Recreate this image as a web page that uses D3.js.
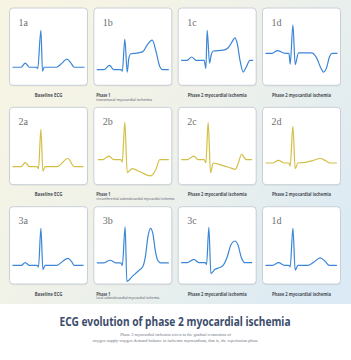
<!DOCTYPE html>
<html>
<head>
<meta charset="utf-8">
<script src="https://cdn.jsdelivr.net/npm/d3@7"></script>
<style>
  body { margin: 0; background: #fff; }
  svg { display: block; }
</style>
</head>
<body>
<div id="chart"></div>
<script>
// ECG traces, [time unit, mV]
const ecg1a = [[0,0],[8.7,0],[12.7,0.14],[17,0],[24,0],[25.2,-0.05],[28.4,1.23],[30,-0.13],[31.7,0],[44,0],[49,0.12],[54.4,0.27],[58.5,0.14],[61.7,0],[72,0]];
const ecg1b = [[0,-0.08],[7,-0.08],[12.7,0.06],[17,-0.08],[24,-0.08],[25.5,-0.13],[28,0.93],[30.4,-0.16],[32,0.3],[34,0.45],[40,0.47],[46,0.52],[50,0.72],[55.4,0.9],[59,0.55],[63,0.02],[66,-0.08],[72,-0.08]];
const ecg1c = [[0,0.23],[6,0.23],[10.4,0.34],[15,0.23],[23,0.23],[24.7,-0.04],[26,1.23],[28.4,0.14],[30,0.4],[32,0.54],[42,0.57],[47,0.65],[51,0.85],[53.7,0.98],[56,0.8],[59,0.2],[62,-0.16],[65,0],[68.7,0.23],[72,0.23]];
const ecg1d = [[0,0.46],[6.4,0.46],[12,0.55],[19.7,0.46],[23.5,0.46],[24.7,0.1],[27.4,1.4],[29.7,0.09],[33,0.48],[46,0.48],[51,0.32],[55,0],[58,-0.16],[61,-0.02],[64,0.35],[66.4,0.46],[72,0.46]];

const ecg2a = [[0,0],[8.7,0],[12.7,0.13],[17,0],[24.5,0],[26,-0.07],[28.4,1.24],[30.4,-0.15],[32.7,0],[44.4,0],[55.4,0.27],[61.7,0],[71,0]];
const ecg2b = [[1,0.23],[6,0.23],[12,0.35],[17,0.23],[24,0.23],[25.4,0.15],[28,1.47],[30.4,-0.2],[35.4,-0.07],[43.7,-0.18],[53.7,-0.31],[58.7,-0.12],[63,0.23],[72,0.23]];
const ecg2c = [[0,0.23],[6,0.23],[12.7,0.35],[17,0.23],[23,0.23],[24.7,0.13],[27,1.47],[29.4,-0.2],[32,0.12],[42,0.03],[50,-0.05],[54,-0.09],[57,0.1],[60.4,0.41],[63,0.3],[65.4,0.23],[71,0.23]];
const ecg2d = [[0,0.12],[7,0.12],[13,0.21],[19,0.12],[23.5,0.12],[24.7,0.02],[27.4,1.34],[29.7,-0.07],[32.4,0.12],[40,0.14],[47,0.2],[54.7,0.27],[60,0.2],[64.7,0.12],[71.4,0.12]];

const ecg3a = [[0,0.02],[8.7,0.02],[12.7,0.11],[17,0.02],[24.5,0.02],[26,-0.03],[28.4,1.25],[30.4,-0.12],[32.7,0.02],[44.4,0.02],[50,0.15],[55.4,0.25],[59,0.15],[61.7,0.02],[71,0.02]];
const ecg3b = [[0,0.1],[7,0.1],[13.2,0.19],[19,0.1],[24,0.1],[25.5,0.02],[28.3,1.3],[30,-0.51],[36,-0.33],[42,-0.15],[46,-0.02],[48.5,0.3],[51,0.95],[53.7,1.25],[56,1.08],[58.5,0.5],[61,0.18],[64,0.1],[72,0.1]];
const ecg3c = [[0,0.11],[6,0.11],[12.7,0.22],[17.7,0.11],[24,0.11],[25.4,0.05],[27.7,1.28],[29.7,-0.25],[33.7,-0.12],[38,-0.06],[42,0.02],[46,0.3],[50,0.72],[53.7,0.83],[57,0.68],[60,0.3],[63.7,0.11],[71,0.11]];
const ecg3d = [[0,0.02],[7,0.02],[13,0.11],[19,0.02],[23.5,0.02],[24.7,-0.03],[27.4,1.25],[29.7,-0.14],[32.4,0.02],[42,0.02],[48,0.12],[54.7,0.27],[60,0.14],[63.7,0.02],[71.4,0.02]];

const traces = [
    [ecg1a, ecg1b, ecg1c, ecg1d],
    [ecg2a, ecg2b, ecg2c, ecg2d],
    [ecg3a, ecg3b, ecg3c, ecg3d],
];

const panelLabels = [
    ["1a", "1b", "1c", "1d"],
    ["2a", "2b", "2c", "2d"],
    ["3a", "3b", "3c", "1d"],
];

const columnCaptions = ["Baseline ECG", "Phase 1", "Phase 2 myocardial ischemia", "Phase 2 myocardial ischemia"];
const phase1Notes = [
    "transmural myocardial ischemia",
    "circumferential subendocardial myocardial ischemia",
    "local subendocardial myocardial ischemia",
];

const title = "ECG evolution of phase 2 myocardial ischemia";
const subtitle = [
    "Phase 2 myocardial ischemia refers to the gradual restoration of",
    "oxygen supply-oxygen demand balance in ischemic myocardium, that is, the reperfusion phase",
];

const W = 351, H = 360;
const rowColors = ["#3b86d6", "#d3bf45", "#3b86d6"];
// widths of the small texts as measured on the reference
const captionWidths = [27.6, 14, 59, 59];
const noteWidths = [55.7, 78, 63];
const subtitleWidths = [110.7, 165.6];

const svg = d3.select("#chart").append("svg")
    .attr("width", W)
    .attr("height", H);

const defs = svg.append("defs");
const grad = defs.append("linearGradient")
    .attr("id", "bg")
    .attr("x1", "0%").attr("y1", "20%")
    .attr("x2", "100%").attr("y2", "80%");
grad.append("stop").attr("offset", "0%").attr("stop-color", "#f7f4e3");
grad.append("stop").attr("offset", "50%").attr("stop-color", "#eef1ea");
grad.append("stop").attr("offset", "100%").attr("stop-color", "#dbeaf4");

svg.append("rect")
    .attr("width", W)
    .attr("height", 304)
    .attr("fill", "url(#bg)");

const colScale = d3.scaleBand().domain(d3.range(4)).range([9.5, 340.5]).paddingInner(0.075);
const rowScale = d3.scaleBand().domain(d3.range(3)).range([8, 284]).paddingInner(0.222);
const pw = colScale.bandwidth();
const ph = rowScale.bandwidth();

const x = d3.scaleLinear().domain([0, 72]).range([3, pw - 3]);
const y = d3.scaleLinear().domain([-0.6, 1.97]).range([ph, 0]);

const line = d3.line()
    .x((d) => x(d[0]))
    .y((d) => y(d[1]))
    .curve(d3.curveMonotoneX);

traces.forEach((row, r) => {
    row.forEach((data, c) => {
        const g = svg.append("g")
            .attr("transform", `translate(${colScale(c)},${rowScale(r)})`);

        g.append("rect")
            .attr("x", 0.5).attr("y", 1.2)
            .attr("width", pw).attr("height", ph)
            .attr("rx", 3.5)
            .attr("fill", "#000")
            .attr("opacity", 0.05);

        g.append("rect")
            .attr("width", pw).attr("height", ph)
            .attr("rx", 3.5)
            .attr("fill", "#fff")
            .attr("stroke", "#c4cbd5")
            .attr("stroke-width", 0.9);

        g.append("text")
            .attr("x", 9)
            .attr("y", 17.5)
            .attr("font-family", "Liberation Serif, serif")
            .attr("font-size", 10)
            .attr("fill", "#707070")
            .text(panelLabels[r][c]);

        g.append("path")
            .attr("d", line(data))
            .attr("fill", "none")
            .attr("stroke", rowColors[r])
            .attr("stroke-width", 1.2)
            .attr("stroke-linejoin", "round");

        // captions under each panel
        const cy = ph + 11.7;
        if (c === 1) {
            g.append("text")
                .attr("x", 2.5).attr("y", cy)
                .attr("font-family", "Noto Sans, sans-serif")
                .attr("font-weight", "bold")
                .attr("font-size", 4.4)
                .attr("fill", "#4a4f58")
                .attr("textLength", captionWidths[c])
                .attr("lengthAdjust", "spacingAndGlyphs")
                .text(columnCaptions[c]);
            g.append("text")
                .attr("x", 2.5).attr("y", cy + 3.8)
                .attr("font-family", "Noto Sans, sans-serif")
                .attr("font-size", 3.2)
                .attr("fill", "#5a6070")
                .attr("textLength", noteWidths[r])
                .attr("lengthAdjust", "spacingAndGlyphs")
                .text(phase1Notes[r]);
        } else {
            g.append("text")
                .attr("x", pw / 2).attr("y", cy)
                .attr("text-anchor", "middle")
                .attr("font-family", "Noto Sans, sans-serif")
                .attr("font-weight", "bold")
                .attr("font-size", 4.4)
                .attr("fill", "#4a4f58")
                .attr("textLength", captionWidths[c])
                .attr("lengthAdjust", "spacingAndGlyphs")
                .text(columnCaptions[c]);
        }
    });
});

svg.append("text")
    .attr("x", 175)
    .attr("y", 325.5)
    .attr("text-anchor", "middle")
    .attr("font-family", "Noto Sans, sans-serif")
    .attr("font-weight", "bold")
    .attr("font-size", 12)
    .attr("fill", "#3c4d6c")
    .attr("textLength", 231)
    .attr("lengthAdjust", "spacingAndGlyphs")
    .text(title);

svg.selectAll(".sub")
    .data(subtitle)
    .join("text")
    .attr("class", "sub")
    .attr("x", 175.5)
    .attr("y", (d, i) => 336 + i * 6)
    .attr("text-anchor", "middle")
    .attr("font-family", "Liberation Serif, serif")
    .attr("font-size", 4.6)
    .attr("fill", "#6f7580")
    .attr("textLength", (d, i) => subtitleWidths[i])
    .attr("lengthAdjust", "spacingAndGlyphs")
    .text((d) => d);
</script>
</body>
</html>
